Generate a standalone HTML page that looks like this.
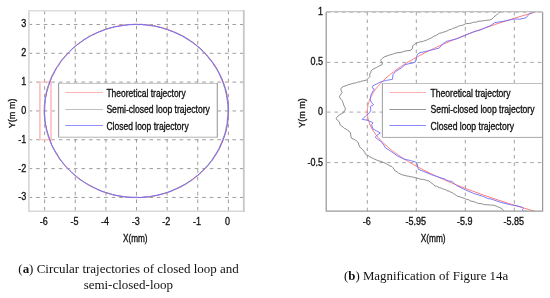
<!DOCTYPE html>
<html><head><meta charset="utf-8"><style>
html,body{margin:0;padding:0;background:#fff;}
body{width:550px;height:298px;position:relative;overflow:hidden;}
svg{position:absolute;left:0;top:0;}
.cap{position:absolute;font-family:"Liberation Serif","Times New Roman",serif;font-size:12.85px;color:#111;white-space:nowrap;line-height:16.4px;}
</style></head><body>
<svg width="550" height="298" viewBox="0 0 550 298">
<g>
<line x1="44.62" y1="10.70" x2="44.62" y2="211.20" stroke="#9c9c9c" stroke-width="1.0" stroke-dasharray="3.6 3.95" stroke-dashoffset="0.00"/>
<line x1="75.25" y1="10.70" x2="75.25" y2="211.20" stroke="#9c9c9c" stroke-width="1.0" stroke-dasharray="3.6 3.95" stroke-dashoffset="0.00"/>
<line x1="105.88" y1="10.70" x2="105.88" y2="211.20" stroke="#9c9c9c" stroke-width="1.0" stroke-dasharray="3.6 3.95" stroke-dashoffset="0.00"/>
<line x1="136.51" y1="10.70" x2="136.51" y2="211.20" stroke="#9c9c9c" stroke-width="1.0" stroke-dasharray="3.6 3.95" stroke-dashoffset="0.00"/>
<line x1="167.14" y1="10.70" x2="167.14" y2="211.20" stroke="#9c9c9c" stroke-width="1.0" stroke-dasharray="3.6 3.95" stroke-dashoffset="0.00"/>
<line x1="197.77" y1="10.70" x2="197.77" y2="211.20" stroke="#9c9c9c" stroke-width="1.0" stroke-dasharray="3.6 3.95" stroke-dashoffset="0.00"/>
<line x1="228.40" y1="10.70" x2="228.40" y2="211.20" stroke="#9c9c9c" stroke-width="1.0" stroke-dasharray="3.6 3.95" stroke-dashoffset="0.00"/>
<line x1="28.90" y1="197.44" x2="243.80" y2="197.44" stroke="#9c9c9c" stroke-width="1.0" stroke-dasharray="3.6 3.95" stroke-dashoffset="0.30"/>
<line x1="28.90" y1="168.61" x2="243.80" y2="168.61" stroke="#9c9c9c" stroke-width="1.0" stroke-dasharray="3.6 3.95" stroke-dashoffset="0.30"/>
<line x1="28.90" y1="139.78" x2="243.80" y2="139.78" stroke="#9c9c9c" stroke-width="1.0" stroke-dasharray="3.6 3.95" stroke-dashoffset="0.30"/>
<line x1="28.90" y1="110.95" x2="243.80" y2="110.95" stroke="#9c9c9c" stroke-width="1.0" stroke-dasharray="3.6 3.95" stroke-dashoffset="0.30"/>
<line x1="28.90" y1="82.12" x2="243.80" y2="82.12" stroke="#9c9c9c" stroke-width="1.0" stroke-dasharray="3.6 3.95" stroke-dashoffset="0.30"/>
<line x1="28.90" y1="53.29" x2="243.80" y2="53.29" stroke="#9c9c9c" stroke-width="1.0" stroke-dasharray="3.6 3.95" stroke-dashoffset="0.30"/>
<line x1="28.90" y1="24.46" x2="243.80" y2="24.46" stroke="#9c9c9c" stroke-width="1.0" stroke-dasharray="3.6 3.95" stroke-dashoffset="0.30"/>
</g>
<path d="M39.9,81.9 V139.6 M51.0,81.9 V139.6" fill="none" stroke="#ffbcbc" stroke-width="1.6"/>
<path d="M39.1,81.9 H51.8 M39.1,139.6 H51.8" fill="none" stroke="#ffc4c4" stroke-width="1.1"/>
<polyline points="227.8,111.0 227.9,108.7 227.7,106.4 227.7,104.2 227.4,101.9 227.0,99.7 226.6,97.4 226.5,95.2 225.8,93.0 225.3,90.8 224.9,88.5 224.1,86.4 223.5,84.2 222.6,82.1 221.8,79.9 220.8,77.9 220.0,75.8 219.1,73.7 217.9,71.7 216.8,69.6 215.6,67.7 214.2,65.8 213.2,63.8 211.8,61.9 210.3,60.2 208.8,58.4 207.5,56.4 205.9,54.8 204.4,53.0 202.8,51.3 201.0,49.7 199.4,48.1 197.5,46.7 195.8,45.1 193.8,43.7 192.0,42.2 190.1,40.9 188.0,39.8 186.0,38.5 184.0,37.3 182.0,35.9 179.8,35.0 177.7,33.8 175.5,32.9 173.4,31.9 171.2,31.1 168.9,30.3 166.7,29.4 164.4,28.7 162.2,27.9 159.8,27.3 157.5,26.7 155.1,26.2 152.8,25.7 150.4,25.5 148.0,25.3 145.6,24.8 143.2,24.6 140.8,24.4 138.4,24.5 136.0,24.4 133.6,24.6 131.2,24.5 128.8,24.7 126.4,25.0 124.0,25.3 121.6,25.4 119.2,25.7 116.9,26.5 114.5,26.7 112.2,27.4 109.9,28.1 107.6,28.8 105.3,29.3 103.0,30.1 100.9,31.2 98.6,31.9 96.5,33.0 94.3,33.8 92.2,35.0 90.0,35.9 87.9,37.1 86.0,38.4 83.9,39.5 82.0,41.0 80.2,42.4 78.2,43.7 76.4,45.3 74.6,46.8 72.8,48.2 71.0,49.8 69.4,51.5 67.8,53.2 66.0,54.7 64.7,56.6 63.0,58.2 61.6,60.0 60.3,62.0 59.0,63.9 57.7,65.8 56.4,67.7 55.2,69.7 54.1,71.7 53.0,73.7 51.9,75.7 51.1,77.9 50.2,80.0 49.3,82.1 48.7,84.3 48.0,86.4 47.1,88.5 46.7,90.8 46.1,93.0 45.8,95.2 45.3,97.4 44.9,99.7 44.8,101.9 44.4,104.2 44.2,106.4 44.3,108.7 44.1,110.9 44.2,113.2 44.2,115.5 44.5,117.7 44.5,120.0 44.8,122.2 45.4,124.5 45.8,126.7 46.1,128.9 46.5,131.2 47.3,133.3 47.9,135.5 48.6,137.7 49.5,139.8 50.3,141.9 51.2,144.0 52.1,146.1 53.0,148.2 54.2,150.2 55.3,152.2 56.3,154.2 57.8,156.1 58.9,158.1 60.2,160.0 61.7,161.7 63.2,163.5 64.5,165.4 66.2,167.1 67.8,168.8 69.4,170.5 71.0,172.2 72.9,173.6 74.6,175.2 76.4,176.7 78.1,178.3 80.1,179.6 81.9,181.0 84.0,182.1 86.0,183.4 88.0,184.7 90.0,186.0 92.2,186.9 94.3,187.9 96.5,188.9 98.6,190.0 100.9,190.8 103.0,191.8 105.3,192.6 107.7,193.1 109.9,193.8 112.2,194.6 114.5,195.1 116.9,195.7 119.3,195.9 121.7,196.2 124.0,196.6 126.4,197.1 128.8,197.1 131.2,197.3 133.6,197.4 136.0,197.4 138.4,197.4 140.8,197.5 143.2,197.1 145.6,196.8 148.0,196.9 150.4,196.5 152.8,196.2 155.1,195.5 157.5,195.2 159.8,194.6 162.1,193.8 164.4,193.3 166.7,192.6 169.0,191.7 171.2,190.9 173.4,189.9 175.5,189.0 177.7,187.9 179.8,186.8 182.0,185.9 184.0,184.6 186.1,183.6 188.0,182.1 190.1,181.0 192.0,179.6 193.9,178.3 195.8,176.8 197.6,175.3 199.3,173.7 200.9,172.0 202.7,170.5 204.2,168.7 205.8,167.1 207.5,165.4 208.9,163.6 210.3,161.8 211.9,160.0 213.1,158.1 214.3,156.1 215.5,154.2 216.9,152.3 217.9,150.2 219.0,148.2 219.9,146.1 220.8,144.0 221.8,141.9 222.7,139.9 223.3,137.6 224.2,135.5 224.9,133.4 225.5,131.2 226.0,129.0 226.2,126.7 226.8,124.5 227.2,122.3 227.2,120.0 227.5,117.7 227.7,115.5 227.9,113.2 227.9,111.0" fill="none" stroke="#9a9a9a" stroke-width="1"/>
<polyline points="228.6,111.0 228.6,108.7 228.5,106.4 228.4,104.1 228.1,101.9 227.9,99.6 227.5,97.4 227.1,95.1 226.6,92.9 226.1,90.7 225.5,88.5 224.9,86.3 224.1,84.2 223.4,82.0 222.5,79.9 221.6,77.8 220.7,75.7 219.7,73.6 218.6,71.6 217.5,69.6 216.3,67.6 215.1,65.6 213.8,63.7 212.4,61.8 211.0,60.0 209.6,58.2 208.1,56.4 206.6,54.6 205.0,52.9 203.3,51.3 201.7,49.6 199.9,48.0 198.2,46.5 196.3,45.0 194.5,43.6 192.6,42.1 190.7,40.8 188.7,39.5 186.7,38.2 184.7,37.0 182.6,35.8 180.5,34.7 178.3,33.7 176.2,32.7 174.0,31.7 171.8,30.8 169.5,30.0 167.3,29.2 165.0,28.5 162.7,27.8 160.4,27.2 158.0,26.6 155.7,26.1 153.3,25.7 150.9,25.3 148.5,25.0 146.1,24.7 143.7,24.5 141.3,24.3 138.9,24.3 136.5,24.2 134.1,24.3 131.7,24.3 129.3,24.5 126.9,24.7 124.5,25.0 122.1,25.3 119.7,25.7 117.4,26.1 115.0,26.6 112.7,27.2 110.3,27.8 108.0,28.5 105.8,29.2 103.5,30.0 101.3,30.8 99.0,31.7 96.8,32.7 94.7,33.7 92.5,34.7 90.4,35.8 88.4,37.0 86.3,38.2 84.3,39.5 82.4,40.8 80.4,42.1 78.5,43.6 76.7,45.0 74.9,46.5 73.1,48.0 71.4,49.6 69.7,51.3 68.0,52.9 66.4,54.6 64.9,56.4 63.4,58.2 62.0,60.0 60.6,61.8 59.2,63.7 58.0,65.6 56.7,67.6 55.5,69.6 54.4,71.6 53.4,73.6 52.3,75.7 51.4,77.8 50.5,79.9 49.7,82.0 48.9,84.2 48.2,86.3 47.5,88.5 46.9,90.7 46.4,92.9 45.9,95.1 45.5,97.4 45.2,99.6 44.9,101.9 44.7,104.1 44.5,106.4 44.4,108.7 44.4,110.9 44.4,113.2 44.5,115.5 44.7,117.8 44.9,120.0 45.2,122.3 45.5,124.5 45.9,126.8 46.4,129.0 46.9,131.2 47.5,133.4 48.2,135.6 48.9,137.7 49.7,139.9 50.5,142.0 51.4,144.1 52.3,146.2 53.4,148.3 54.4,150.3 55.5,152.3 56.7,154.3 58.0,156.3 59.2,158.2 60.6,160.1 62.0,161.9 63.4,163.7 64.9,165.5 66.4,167.3 68.0,169.0 69.7,170.6 71.4,172.3 73.1,173.9 74.9,175.4 76.7,176.9 78.5,178.3 80.4,179.8 82.4,181.1 84.3,182.4 86.3,183.7 88.4,184.9 90.4,186.1 92.5,187.2 94.7,188.2 96.8,189.2 99.0,190.2 101.3,191.1 103.5,191.9 105.8,192.7 108.0,193.4 110.3,194.1 112.7,194.7 115.0,195.3 117.4,195.8 119.7,196.2 122.1,196.6 124.5,196.9 126.9,197.2 129.3,197.4 131.7,197.6 134.1,197.6 136.5,197.7 138.9,197.6 141.3,197.6 143.7,197.4 146.1,197.2 148.5,196.9 150.9,196.6 153.3,196.2 155.7,195.8 158.0,195.3 160.4,194.7 162.7,194.1 165.0,193.4 167.3,192.7 169.5,191.9 171.8,191.1 174.0,190.2 176.2,189.2 178.3,188.2 180.5,187.2 182.6,186.1 184.7,184.9 186.7,183.7 188.7,182.4 190.7,181.1 192.6,179.8 194.5,178.3 196.3,176.9 198.2,175.4 199.9,173.9 201.7,172.3 203.3,170.6 205.0,169.0 206.6,167.3 208.1,165.5 209.6,163.7 211.0,161.9 212.4,160.1 213.8,158.2 215.1,156.3 216.3,154.3 217.5,152.3 218.6,150.3 219.7,148.3 220.7,146.2 221.6,144.1 222.5,142.0 223.4,139.9 224.1,137.7 224.9,135.6 225.5,133.4 226.1,131.2 226.6,129.0 227.1,126.8 227.5,124.5 227.9,122.3 228.1,120.0 228.4,117.8 228.5,115.5 228.6,113.2 228.6,111.0" fill="none" stroke="#ff9090" stroke-width="0.8"/>
<polyline points="228.4,111.0 228.5,108.7 228.4,106.4 228.3,104.2 228.0,101.9 227.8,99.6 227.1,97.4 226.8,95.2 226.6,92.9 225.9,90.7 225.4,88.5 224.5,86.4 223.9,84.2 223.0,82.1 222.3,79.9 221.4,77.8 220.3,75.8 219.4,73.8 218.3,71.7 217.4,69.6 216.2,67.7 214.8,65.8 213.7,63.8 212.1,62.0 210.9,60.1 209.3,58.4 207.8,56.6 206.5,54.7 204.7,53.1 203.1,51.5 201.6,49.7 199.9,48.1 197.9,46.7 196.3,45.1 194.3,43.7 192.5,42.3 190.5,41.1 188.6,39.5 186.6,38.4 184.6,37.1 182.5,35.9 180.3,35.0 178.2,33.9 176.0,33.0 173.8,32.0 171.6,31.2 169.4,30.3 167.2,29.4 164.8,28.9 162.6,28.0 160.3,27.5 157.9,26.9 155.6,26.2 153.3,25.9 150.9,25.6 148.5,25.2 146.1,24.9 143.7,24.9 141.3,24.4 138.9,24.7 136.5,24.4 134.1,24.4 131.7,24.7 129.3,24.6 126.9,25.0 124.5,25.2 122.2,25.7 119.8,26.1 117.4,26.5 115.0,26.7 112.8,27.5 110.4,27.9 108.1,28.6 105.8,29.3 103.6,30.3 101.4,31.1 99.1,31.9 96.9,32.8 94.9,34.0 92.6,34.9 90.5,36.0 88.4,37.1 86.6,38.5 84.4,39.5 82.6,41.1 80.6,42.4 78.7,43.7 76.7,45.1 75.1,46.7 73.1,48.1 71.5,49.8 69.9,51.5 68.3,53.1 66.7,54.9 65.2,56.6 63.7,58.4 62.1,60.1 60.6,61.9 59.5,63.9 58.3,65.8 56.8,67.6 55.7,69.7 54.7,71.7 53.7,73.8 52.5,75.8 51.5,77.8 50.7,80.0 49.9,82.1 49.3,84.3 48.3,86.3 47.9,88.6 47.2,90.8 46.5,92.9 46.3,95.2 45.7,97.4 45.2,99.6 45.1,101.9 44.8,104.2 44.9,106.4 44.7,108.7 44.7,110.9 44.5,113.2 44.8,115.5 44.9,117.7 44.9,120.0 45.3,122.3 45.6,124.5 46.2,126.7 46.6,128.9 47.1,131.2 47.8,133.3 48.5,135.5 49.2,137.7 50.0,139.8 50.8,141.9 51.4,144.1 52.4,146.2 53.5,148.2 54.6,150.2 55.8,152.2 57.1,154.1 58.2,156.1 59.4,158.1 60.7,160.0 62.2,161.8 63.5,163.7 65.0,165.4 66.6,167.2 68.2,168.9 69.8,170.5 71.6,172.1 73.2,173.7 75.1,175.2 76.8,176.7 78.6,178.2 80.5,179.6 82.5,180.9 84.4,182.4 86.4,183.5 88.5,184.7 90.7,185.7 92.7,187.0 94.8,187.9 96.9,189.1 99.1,190.0 101.3,191.0 103.6,191.7 105.8,192.6 108.1,193.2 110.4,193.9 112.7,194.6 115.0,195.2 117.4,195.5 119.7,196.1 122.1,196.5 124.5,196.8 126.9,197.1 129.3,197.3 131.7,197.3 134.1,197.4 136.5,197.3 138.9,197.5 141.3,197.5 143.7,197.2 146.1,197.0 148.5,196.8 150.9,196.5 153.2,195.9 155.6,195.6 158.0,195.1 160.3,194.5 162.6,193.9 164.9,193.2 167.2,192.6 169.5,191.7 171.7,190.9 173.8,189.8 176.0,188.9 178.2,188.0 180.4,187.0 182.4,185.8 184.6,184.7 186.6,183.5 188.5,182.1 190.5,180.9 192.4,179.5 194.2,178.0 196.1,176.6 198.0,175.2 199.7,173.6 201.4,172.0 203.0,170.4 204.8,168.8 206.4,167.1 208.0,165.4 209.4,163.6 210.8,161.7 212.4,160.0 213.4,158.0 214.8,156.1 216.0,154.2 217.2,152.2 218.3,150.2 219.6,148.2 220.4,146.1 221.2,144.0 222.3,142.0 223.0,139.8 223.9,137.7 224.6,135.5 225.3,133.3 226.0,131.2 226.5,129.0 226.8,126.7 227.4,124.5 227.7,122.2 227.8,120.0 228.0,117.7 228.3,115.5 228.4,113.2 228.6,111.0" fill="none" stroke="#6c6cff" stroke-width="1.0"/>
<polyline points="228.4,111.0 228.4,108.7 228.3,106.4 228.1,104.2 227.9,101.9 227.6,99.7 227.3,97.4 226.9,95.2 226.4,93.0 225.9,90.8 225.3,88.6 224.6,86.4 223.9,84.2 223.1,82.1 222.3,80.0 221.4,77.9 220.5,75.8 219.4,73.7 218.4,71.7 217.3,69.7 216.1,67.7 214.9,65.8 213.6,63.8 212.2,62.0 210.9,60.1 209.4,58.3 207.9,56.5 206.4,54.8 204.8,53.1 203.2,51.4 201.5,49.8 199.8,48.2 198.0,46.7 196.2,45.2 194.3,43.7 192.4,42.3 190.5,41.0 188.6,39.7 186.6,38.4 184.5,37.2 182.5,36.0 180.4,34.9 178.2,33.9 176.1,32.9 173.9,31.9 171.7,31.0 169.4,30.2 167.2,29.4 164.9,28.7 162.6,28.0 160.3,27.4 158.0,26.8 155.6,26.4 153.3,25.9 150.9,25.5 148.5,25.2 146.1,24.9 143.7,24.7 141.3,24.6 138.9,24.5 136.5,24.5 134.1,24.5 131.7,24.6 129.3,24.7 126.9,24.9 124.5,25.2 122.1,25.5 119.8,25.9 117.4,26.4 115.1,26.8 112.7,27.4 110.4,28.0 108.1,28.7 105.8,29.4 103.6,30.2 101.3,31.0 99.1,31.9 97.0,32.9 94.8,33.9 92.7,34.9 90.6,36.0 88.5,37.2 86.5,38.4 84.5,39.7 82.5,41.0 80.6,42.3 78.7,43.7 76.8,45.2 75.0,46.7 73.3,48.2 71.5,49.8 69.9,51.4 68.2,53.1 66.6,54.8 65.1,56.5 63.6,58.3 62.2,60.1 60.8,62.0 59.4,63.8 58.2,65.8 56.9,67.7 55.8,69.7 54.6,71.7 53.6,73.7 52.6,75.8 51.6,77.9 50.7,80.0 49.9,82.1 49.1,84.2 48.4,86.4 47.8,88.6 47.2,90.8 46.6,93.0 46.2,95.2 45.8,97.4 45.4,99.7 45.1,101.9 44.9,104.2 44.7,106.4 44.7,108.7 44.6,110.9 44.7,113.2 44.7,115.5 44.9,117.7 45.1,120.0 45.4,122.2 45.8,124.5 46.2,126.7 46.6,128.9 47.2,131.1 47.8,133.3 48.4,135.5 49.1,137.7 49.9,139.8 50.7,141.9 51.6,144.0 52.6,146.1 53.6,148.2 54.6,150.2 55.8,152.2 56.9,154.2 58.2,156.1 59.4,158.1 60.8,159.9 62.2,161.8 63.6,163.6 65.1,165.4 66.6,167.1 68.2,168.8 69.9,170.5 71.5,172.1 73.3,173.7 75.0,175.2 76.8,176.7 78.7,178.2 80.6,179.6 82.5,180.9 84.5,182.2 86.5,183.5 88.5,184.7 90.6,185.9 92.7,187.0 94.8,188.0 97.0,189.0 99.1,190.0 101.3,190.9 103.6,191.7 105.8,192.5 108.1,193.2 110.4,193.9 112.7,194.5 115.1,195.1 117.4,195.5 119.8,196.0 122.1,196.4 124.5,196.7 126.9,197.0 129.3,197.2 131.7,197.3 134.1,197.4 136.5,197.4 138.9,197.4 141.3,197.3 143.7,197.2 146.1,197.0 148.5,196.7 150.9,196.4 153.3,196.0 155.6,195.5 158.0,195.1 160.3,194.5 162.6,193.9 164.9,193.2 167.2,192.5 169.4,191.7 171.7,190.9 173.9,190.0 176.1,189.0 178.2,188.0 180.4,187.0 182.5,185.9 184.5,184.7 186.6,183.5 188.6,182.2 190.5,180.9 192.4,179.6 194.3,178.2 196.2,176.7 198.0,175.2 199.8,173.7 201.5,172.1 203.2,170.5 204.8,168.8 206.4,167.1 207.9,165.4 209.4,163.6 210.9,161.8 212.2,159.9 213.6,158.1 214.9,156.1 216.1,154.2 217.3,152.2 218.4,150.2 219.4,148.2 220.5,146.1 221.4,144.0 222.3,141.9 223.1,139.8 223.9,137.7 224.6,135.5 225.3,133.3 225.9,131.1 226.4,128.9 226.9,126.7 227.3,124.5 227.6,122.2 227.9,120.0 228.1,117.7 228.3,115.5 228.4,113.2 228.4,111.0" fill="none" stroke="#ff6a6a" stroke-width="0.9" stroke-dasharray="1.5 14" opacity="0.7"/>
<line x1="28.9" y1="10.7" x2="243.8" y2="10.7" stroke="#dedede" stroke-width="1.5"/>
<line x1="28.9" y1="211.2" x2="243.8" y2="211.2" stroke="#d8d8d8" stroke-width="1.5"/>
<line x1="28.9" y1="10.0" x2="28.9" y2="211.89999999999998" stroke="#dadada" stroke-width="1.8"/>
<line x1="243.8" y1="10.0" x2="243.8" y2="211.89999999999998" stroke="#c6c6c6" stroke-width="1.8"/>
<rect x="58.6" y="83.4" width="158.7" height="53.8" fill="#fff" stroke="none"/>
<path d="M58.6,83.4 H217.3" stroke="#c4c4c4" stroke-width="1" fill="none"/>
<path d="M58.6,83.0 V137.2 M217.3,83.0 V137.6" stroke="#9c9c9c" stroke-width="1.1" fill="none"/>
<path d="M58.6,137.2 H217.3" stroke="#b4b4b4" stroke-width="1" fill="none"/>
<line x1="65.3" y1="92.5" x2="103" y2="92.5" stroke="#ffb0b0" stroke-width="1"/>
<line x1="65.3" y1="109.5" x2="103" y2="109.5" stroke="#c0c0c0" stroke-width="1"/>
<line x1="65.3" y1="125.5" x2="103" y2="125.5" stroke="#8484ff" stroke-width="0.9"/>
<g font-family="Liberation Sans, Arial, sans-serif" fill="#111" stroke="#111" stroke-width="0.32">
<text x="106.4" y="96.6" font-size="10" text-anchor="start" textLength="79.3" lengthAdjust="spacingAndGlyphs" >Theoretical trajectory</text>
<text x="106.4" y="113.0" font-size="10" text-anchor="start" textLength="103.5" lengthAdjust="spacingAndGlyphs" >Semi-closed loop trajectory</text>
<text x="106.4" y="130.2" font-size="10" text-anchor="start" textLength="82.3" lengthAdjust="spacingAndGlyphs" >Closed loop trajectory</text>
<text transform="translate(43.82,224.60) scale(0.9,1)" font-size="10" text-anchor="middle">-6</text>
<text transform="translate(74.45,224.60) scale(0.9,1)" font-size="10" text-anchor="middle">-5</text>
<text transform="translate(105.08,224.60) scale(0.9,1)" font-size="10" text-anchor="middle">-4</text>
<text transform="translate(135.71,224.60) scale(0.9,1)" font-size="10" text-anchor="middle">-3</text>
<text transform="translate(166.34,224.60) scale(0.9,1)" font-size="10" text-anchor="middle">-2</text>
<text transform="translate(196.97,224.60) scale(0.9,1)" font-size="10" text-anchor="middle">-1</text>
<text transform="translate(227.60,224.60) scale(0.9,1)" font-size="10" text-anchor="middle">0</text>
<text transform="translate(26.20,200.34) scale(0.9,1)" font-size="10" text-anchor="end">-3</text>
<text transform="translate(26.20,171.51) scale(0.9,1)" font-size="10" text-anchor="end">-2</text>
<text transform="translate(26.20,142.68) scale(0.9,1)" font-size="10" text-anchor="end">-1</text>
<text transform="translate(26.20,113.85) scale(0.9,1)" font-size="10" text-anchor="end">0</text>
<text transform="translate(26.20,85.02) scale(0.9,1)" font-size="10" text-anchor="end">1</text>
<text transform="translate(26.20,56.19) scale(0.9,1)" font-size="10" text-anchor="end">2</text>
<text transform="translate(26.20,27.36) scale(0.9,1)" font-size="10" text-anchor="end">3</text>
<text x="123" y="241.8" font-size="10" text-anchor="start" textLength="24.6" lengthAdjust="spacingAndGlyphs" >X(mm)</text>
<text x="0" y="0" font-size="9.2" transform="translate(15.3,128.2) rotate(-90)" textLength="29.7" lengthAdjust="spacingAndGlyphs">Y(m m)</text>
</g>
<line x1="367.30" y1="11.90" x2="367.30" y2="211.20" stroke="#a0a0a0" stroke-width="1.0" stroke-dasharray="3.6 3.93" stroke-dashoffset="0.00"/>
<line x1="416.30" y1="11.90" x2="416.30" y2="211.20" stroke="#a0a0a0" stroke-width="1.0" stroke-dasharray="3.6 3.93" stroke-dashoffset="0.00"/>
<line x1="465.30" y1="11.90" x2="465.30" y2="211.20" stroke="#a0a0a0" stroke-width="1.0" stroke-dasharray="3.6 3.93" stroke-dashoffset="0.00"/>
<line x1="514.30" y1="11.90" x2="514.30" y2="211.20" stroke="#a0a0a0" stroke-width="1.0" stroke-dasharray="3.6 3.93" stroke-dashoffset="0.00"/>
<line x1="326.20" y1="62.40" x2="542.60" y2="62.40" stroke="#a6a6a6" stroke-width="1.0" stroke-dasharray="3.6 3.93" stroke-dashoffset="6.83"/>
<line x1="326.20" y1="112.10" x2="542.60" y2="112.10" stroke="#a6a6a6" stroke-width="1.0" stroke-dasharray="3.6 3.93" stroke-dashoffset="6.83"/>
<line x1="326.20" y1="162.60" x2="542.60" y2="162.60" stroke="#a6a6a6" stroke-width="1.0" stroke-dasharray="3.6 3.93" stroke-dashoffset="6.83"/>
<clipPath id="rc"><rect x="326.2" y="11.9" width="216.40000000000003" height="199.29999999999998"/></clipPath>
<g clip-path="url(#rc)">
<polyline points="503.0,10.5 501.1,11.7 498.6,13.0 497.4,14.1 496.3,15.3 494.9,16.1 493.3,17.6 491.8,19.2 489.7,20.0 487.4,20.2 485.5,20.4 483.7,20.7 481.9,21.1 480.0,21.0 478.1,21.4 476.3,22.1 474.3,22.1 472.7,22.5 471.2,23.1 469.7,23.4 468.0,23.5 466.4,23.5 464.9,24.1 463.4,24.9 461.9,25.4 460.2,25.7 458.6,26.1 457.2,26.9 455.7,27.6 454.1,28.1 452.5,28.4 451.2,29.5 449.4,29.6 448.0,30.5 446.5,31.2 445.0,31.8 443.4,32.1 441.6,32.9 439.7,33.2 438.0,34.1 436.4,35.3 434.6,36.0 432.9,36.9 431.2,38.0 429.7,38.7 428.1,39.2 426.7,40.2 425.1,40.5 423.4,41.3 421.7,41.7 419.8,41.9 418.1,42.5 416.4,43.3 414.6,44.0 412.6,46.1 412.6,48.1 411.0,50.1 409.0,50.6 407.0,50.7 405.0,51.1 403.3,51.6 401.7,52.2 400.0,52.5 398.0,52.6 396.1,53.0 394.2,53.5 392.3,54.3 390.2,54.8 388.2,55.5 386.2,56.2 384.2,57.0 382.5,58.1 381.1,59.6 380.6,60.6 382.2,62.6 382.2,64.6 380.1,65.5 378.1,66.6 376.2,67.7 374.1,68.6 372.4,69.6 371.1,71.1 370.6,72.8 369.6,74.2 370.1,76.2 369.1,77.5 368.1,78.7 366.5,80.0 363.5,80.8 361.8,81.0 360.2,81.8 358.5,82.0 356.8,82.4 355.3,83.2 353.6,83.2 352.0,83.6 350.5,84.2 348.9,84.4 347.4,85.1 345.7,85.9 343.8,86.3 342.1,87.1 340.7,89.1 341.3,90.8 342.1,92.5 341.2,93.8 340.3,95.2 339.4,96.5 340.1,98.0 340.9,99.3 342.1,100.5 342.8,102.2 343.4,104.0 344.0,105.8 345.0,107.5 345.4,109.4 344.3,111.0 343.4,112.7 341.5,113.7 339.6,114.7 338.0,116.1 336.8,117.3 336.0,118.8 337.8,120.3 339.4,122.1 340.1,124.8 341.8,126.1 343.4,127.5 344.7,128.5 346.3,129.0 347.4,130.2 348.8,131.2 350.1,132.2 350.7,134.2 350.8,136.2 351.7,138.4 353.8,139.2 355.7,140.4 357.3,141.5 358.4,143.0 358.9,145.1 359.8,147.1 361.3,148.2 362.6,149.6 363.8,151.1 364.8,152.4 365.4,153.9 366.5,155.1 368.4,155.7 370.0,156.9 371.8,157.8 373.4,158.5 374.9,159.4 376.6,160.0 378.2,160.7 379.9,161.1 381.6,161.6 383.3,162.4 385.0,163.0 386.6,163.8 388.2,164.9 390.0,165.9 391.9,166.5 393.0,167.7 393.9,169.0 394.6,170.5 396.0,171.2 397.4,172.1 398.6,173.2 400.7,174.1 402.7,175.0 405.0,175.5 406.8,176.0 408.6,176.2 410.4,176.8 412.1,176.8 413.8,177.4 415.4,177.8 417.1,178.2 418.8,178.6 420.4,179.2 422.1,179.3 423.8,179.5 425.6,180.0 427.3,180.6 429.1,181.1 430.6,182.5 432.4,183.5 433.8,185.0 435.2,185.9 436.7,186.4 438.1,187.1 439.7,187.7 441.2,188.1 442.7,188.8 444.3,189.4 445.9,189.8 447.3,190.8 449.0,191.1 450.4,192.0 452.1,192.6 453.5,193.6 455.1,194.5 456.5,195.5 458.0,196.5 459.6,196.7 461.1,197.2 462.6,197.8 464.2,198.2 465.6,199.0 467.2,199.5 468.9,199.8 470.3,200.9 472.0,201.3 473.7,201.6 475.3,202.2 476.8,202.8 478.4,203.5 480.2,203.6 482.0,203.7 483.7,204.5 485.5,204.8 487.3,204.7 489.0,204.9 490.7,205.1 492.4,205.0 494.1,205.5 495.9,205.9 497.5,206.7 499.2,207.4 500.9,208.2 502.4,209.3 504.3,211.2 505.5,213.0" fill="none" stroke="#787878" stroke-width="0.85"/>
<polyline points="542.4,10.0 538.9,11.0 535.3,12.0 531.8,13.1 528.3,14.1 524.9,15.1 521.5,16.1 518.1,17.1 514.8,18.1 511.6,19.2 508.3,20.2 505.1,21.2 502.0,22.2 498.9,23.2 495.8,24.2 492.8,25.3 489.8,26.3 486.8,27.3 483.9,28.3 481.0,29.3 478.1,30.4 475.3,31.4 472.6,32.4 469.8,33.4 467.1,34.4 464.5,35.4 461.9,36.5 459.3,37.5 456.8,38.5 454.2,39.5 451.8,40.5 449.3,41.5 447.0,42.6 444.6,43.6 442.3,44.6 440.0,45.6 437.7,46.6 435.5,47.7 433.4,48.7 431.2,49.7 429.1,50.7 427.1,51.7 425.0,52.7 423.0,53.8 421.1,54.8 419.2,55.8 417.3,56.8 415.4,57.8 413.6,58.8 411.8,59.9 410.1,60.9 408.4,61.9 406.7,62.9 405.1,63.9 403.5,64.9 401.9,66.0 400.4,67.0 398.9,68.0 397.4,69.0 396.0,70.0 394.6,71.1 393.3,72.1 391.9,73.1 390.7,74.1 389.4,75.1 388.2,76.1 387.0,77.2 385.9,78.2 384.8,79.2 383.7,80.2 382.6,81.2 381.6,82.2 380.7,83.3 379.7,84.3 378.8,85.3 377.9,86.3 377.1,87.3 376.3,88.3 375.5,89.4 374.8,90.4 374.1,91.4 373.4,92.4 372.8,93.4 372.2,94.5 371.7,95.5 371.1,96.5 370.6,97.5 370.2,98.5 369.7,99.5 369.4,100.6 369.0,101.6 368.7,102.6 368.4,103.6 368.1,104.6 367.9,105.6 367.7,106.7 367.6,107.7 367.5,108.7 367.4,109.7 367.3,110.7 367.3,111.8 367.3,112.8 367.4,113.8 367.5,114.8 367.6,115.8 367.7,116.8 367.9,117.9 368.1,118.9 368.4,119.9 368.7,120.9 369.0,121.9 369.4,122.9 369.7,124.0 370.2,125.0 370.6,126.0 371.1,127.0 371.7,128.0 372.2,129.0 372.8,130.1 373.4,131.1 374.1,132.1 374.8,133.1 375.5,134.1 376.3,135.2 377.1,136.2 377.9,137.2 378.8,138.2 379.7,139.2 380.7,140.2 381.6,141.3 382.6,142.3 383.7,143.3 384.8,144.3 385.9,145.3 387.0,146.3 388.2,147.4 389.4,148.4 390.7,149.4 391.9,150.4 393.3,151.4 394.6,152.4 396.0,153.5 397.4,154.5 398.9,155.5 400.4,156.5 401.9,157.5 403.5,158.6 405.1,159.6 406.7,160.6 408.4,161.6 410.1,162.6 411.8,163.6 413.6,164.7 415.4,165.7 417.3,166.7 419.2,167.7 421.1,168.7 423.0,169.7 425.0,170.8 427.1,171.8 429.1,172.8 431.2,173.8 433.4,174.8 435.5,175.8 437.7,176.9 440.0,177.9 442.3,178.9 444.6,179.9 447.0,180.9 449.3,182.0 451.8,183.0 454.2,184.0 456.8,185.0 459.3,186.0 461.9,187.0 464.5,188.1 467.1,189.1 469.8,190.1 472.6,191.1 475.3,192.1 478.1,193.1 481.0,194.2 483.9,195.2 486.8,196.2 489.8,197.2 492.8,198.2 495.8,199.3 498.9,200.3 502.0,201.3 505.1,202.3 508.3,203.3 511.6,204.3 514.8,205.4 518.1,206.4 521.5,207.4 524.9,208.4 528.3,209.4 531.8,210.4 535.3,211.5 538.9,212.5 542.4,213.5" fill="none" stroke="#ff7a7a" stroke-width="1"/>
<polyline points="537.0,10.8 534.6,12.0 529.6,13.6 525.9,17.9 519.7,19.2 514.7,18.9 504.8,21.0 494.9,22.6 489.9,26.0 486.3,27.4 480.0,30.1 474.3,31.5 464.9,35.5 456.8,38.8 446.1,41.5 445.0,42.5 442.3,44.0 440.8,46.1 439.2,48.1 435.2,49.1 431.2,50.1 425.1,51.6 420.1,52.6 417.6,54.1 416.6,56.6 416.1,59.1 415.1,62.2 412.0,63.2 409.0,63.7 405.0,64.7 401.8,67.6 395.9,71.3 393.0,74.3 392.5,79.3 386.3,80.4 381.0,81.8 376.9,83.8 372.9,85.8 372.2,87.8 374.3,89.1 372.9,91.1 370.9,95.2 370.2,99.9 371.6,102.7 373.6,104.7 370.2,106.7 370.9,110.1 369.6,112.7 366.2,115.4 362.2,119.4 366.9,120.1 368.9,120.8 372.9,122.8 371.6,124.8 372.9,128.8 376.3,130.8 380.3,132.9 376.9,135.5 375.2,137.0 377.2,139.0 380.5,141.0 383.9,145.1 385.2,147.7 390.6,151.1 397.3,155.8 404.0,159.1 410.4,160.5 415.7,162.1 417.1,163.4 417.7,166.8 418.4,169.4 423.8,171.5 431.8,174.8 439.9,177.5 445.2,179.2 447.9,180.8 451.9,181.5 456.7,185.6 463.1,188.8 473.3,193.3 483.5,196.5 487.7,198.5 491.1,199.0 500.5,202.3 510.6,204.8 518.3,206.1 522.7,207.4 523.4,208.6 522.1,209.9 523.4,211.2 525.9,211.2 528.0,212.5" fill="none" stroke="#6e6eff" stroke-width="0.9"/>
</g>
<line x1="326.2" y1="11.6" x2="542.6" y2="11.6" stroke="#c2c2c2" stroke-width="1.2"/>
<line x1="326.20" y1="12.40" x2="542.60" y2="12.40" stroke="#b4b4b4" stroke-width="0.8" stroke-dasharray="3.6 3.93" stroke-dashoffset="6.83"/>
<rect x="382.4" y="83.5" width="160" height="53.9" fill="#fff" stroke="none"/>
<path d="M382.4,83.5 H542.4" stroke="#c0c0c0" stroke-width="1" fill="none"/>
<path d="M382.4,83.0 V137.4" stroke="#a4a4a4" stroke-width="1.1" fill="none"/>
<path d="M382.4,137.4 H542.4" stroke="#a8a8a8" stroke-width="1" fill="none"/>
<path d="M326.2,11.9 V211.2 H542.6 V11.9" fill="none" stroke="#999" stroke-width="1.25"/>
<line x1="389.4" y1="92.5" x2="426" y2="92.5" stroke="#ffa8a8" stroke-width="0.9"/>
<line x1="389.4" y1="109.5" x2="426" y2="109.5" stroke="#8a8a8a" stroke-width="0.9"/>
<line x1="389.4" y1="125.5" x2="426" y2="125.5" stroke="#7c7cff" stroke-width="0.9"/>
<g font-family="Liberation Sans, Arial, sans-serif" fill="#111" stroke="#111" stroke-width="0.32">
<text x="430.6" y="96.6" font-size="10" text-anchor="start" textLength="79.9" lengthAdjust="spacingAndGlyphs" >Theoretical trajectory</text>
<text x="430.6" y="113.0" font-size="10" text-anchor="start" textLength="103.9" lengthAdjust="spacingAndGlyphs" >Semi-closed loop trajectory</text>
<text x="430.6" y="130.2" font-size="10" text-anchor="start" textLength="83.4" lengthAdjust="spacingAndGlyphs" >Closed loop trajectory</text>
<text transform="translate(366.70,224.60) scale(0.9,1)" font-size="10" text-anchor="middle">-6</text>
<text transform="translate(415.70,224.60) scale(0.9,1)" font-size="10" text-anchor="middle">-5.95</text>
<text transform="translate(464.70,224.60) scale(0.9,1)" font-size="10" text-anchor="middle">-5.9</text>
<text transform="translate(513.70,224.60) scale(0.9,1)" font-size="10" text-anchor="middle">-5.85</text>
<text transform="translate(323.00,15.40) scale(0.9,1)" font-size="10" text-anchor="end">1</text>
<text transform="translate(323.00,65.30) scale(0.9,1)" font-size="10" text-anchor="end">0.5</text>
<text transform="translate(323.00,115.00) scale(0.9,1)" font-size="10" text-anchor="end">0</text>
<text transform="translate(323.00,165.50) scale(0.9,1)" font-size="10" text-anchor="end">-0.5</text>
<text x="420.7" y="241.6" font-size="10" text-anchor="start" textLength="24.9" lengthAdjust="spacingAndGlyphs" >X(mm)</text>
<text x="0" y="0" font-size="9.2" transform="translate(304.5,127.7) rotate(-90)" textLength="29.4" lengthAdjust="spacingAndGlyphs">Y(m m)</text>
</g>
</svg>
<div class="cap" style="left:18.3px;top:261.2px;width:220px;text-align:center;font-size:12.98px;line-height:16.0px;">(<b>a</b>) Circular trajectories of closed loop and<br>semi-closed-loop</div>
<div class="cap" style="left:344px;top:268px;">(<b>b</b>) Magnification of Figure 14a</div>
</body></html>
